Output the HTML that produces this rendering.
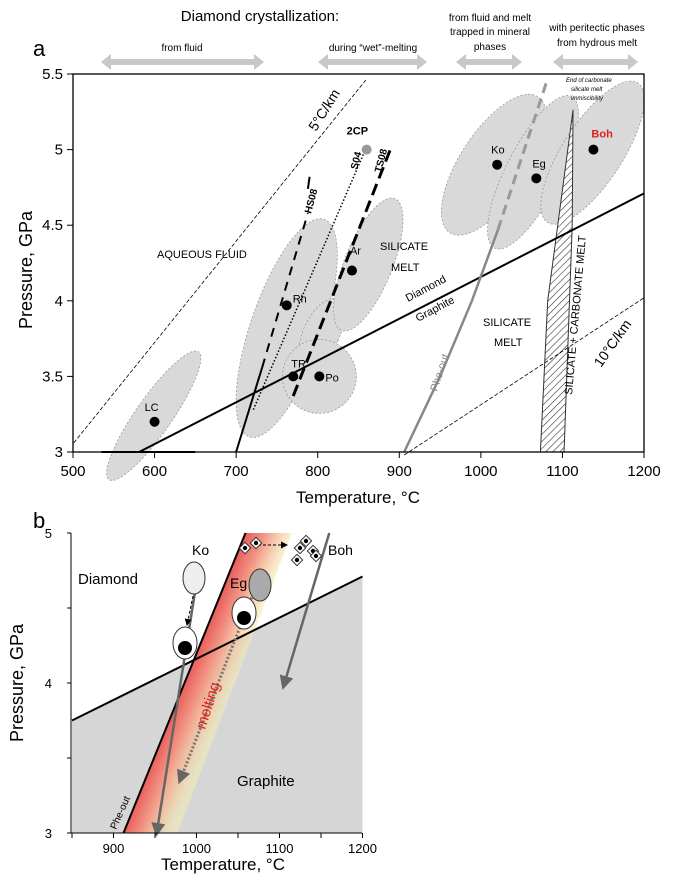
<!DOCTYPE html>
<html><head><meta charset="utf-8"><style>
body{margin:0;background:#fff}
svg{display:block;font-family:"Liberation Sans",sans-serif}
</style></head><body>
<svg id="fig" width="685" height="878" viewBox="0 0 685 878" xmlns="http://www.w3.org/2000/svg">
<defs>
<pattern id="hatch" width="5" height="5" patternUnits="userSpaceOnUse" patternTransform="rotate(45)"><rect width="5" height="5" fill="#fff"/><line x1="0" y1="0" x2="0" y2="5" stroke="#333" stroke-width="1.2"/></pattern>
<linearGradient id="melt" gradientUnits="userSpaceOnUse" x1="180" y1="683" x2="226" y2="702"><stop offset="0" stop-color="#e85050"/><stop offset="0.45" stop-color="#f29a88"/><stop offset="1" stop-color="#f6f0b0" stop-opacity="0.5"/></linearGradient>
<marker id="ah" markerUnits="userSpaceOnUse" markerWidth="14" markerHeight="14" refX="10" refY="7" orient="auto"><path d="M0,0 L14,7 L0,14 z" fill="#666"/></marker>
<marker id="ahk" markerUnits="userSpaceOnUse" markerWidth="7" markerHeight="7" refX="6" refY="3.5" orient="auto"><path d="M0,0 L7,3.5 L0,7 z" fill="#000"/></marker>
</defs>
<g id="pa"></g>
<g id="pb"></g>
</svg>
<script>
// ---- Panel a data ----
const xTicksA=[500,600,700,800,900,1000,1100,1200];
const yTicksA=[3,3.5,4,4.5,5,5.5];
const pointNames=["LC","Rh","TR","Po","Ar","2CP","Ko","Eg","Boh"];
const pointT=[600,762,770,802,842,860,1020,1068,1138];
const pointP=[3.2,3.97,3.5,3.5,4.2,5.0,4.9,4.81,5.0];
const ellT=[599,762,805,862,802,1016,1064,1137];
const ellP=[3.24,3.82,3.79,4.24,3.5,4.9,4.85,4.98];
const dgT=[581,1200], dgP=[3,4.71];
const geo5T=[501,859], geo5P=[3.06,5.46];
const geo10T=[906,1200], geo10P=[2.98,4.02];
const s04T=[721,860], s04P=[3.28,5.02];
const ts08T=[770,889], ts08P=[3.37,5.0];
const hs08T=[700,732,788], hs08P=[3,3.56,4.58];
const pheT=[906,950,989,1021], pheP=[3,3.5,4.0,4.47];
const pheDashT=[1021,1082], pheDashP=[4.47,5.47];
const bandLT=[1073,1082,1113], bandLP=[3,4.0,5.26];
const bandRT=[1102,1112,1113], bandRP=[3,4.5,5.26];

const NS="http://www.w3.org/2000/svg";
function mk(par,tag,at,txt){const e=document.createElementNS(NS,tag);for(const k in at)e.setAttribute(k,at[k]);if(txt!==undefined)e.textContent=txt;par.appendChild(e);return e;}
const xa=t=>73+(t-500)*571/700, ya=p=>452-(p-3)*151.2;
const pa=document.getElementById('pa');
function lineA(T,P){return T.map((t,i)=>(i?'L':'M')+xa(t).toFixed(1)+','+ya(P[i]).toFixed(1)).join(' ');}

// ellipse shapes: [half-width, half-length, angle]
const ellGeom=[[18,78,35],[36,115,19],[18,37,26],[24,71,22],[37,37,0],[34,81,33],[27,85,27],[30,83,33]];
ellT.forEach((t,i)=>{const g=ellGeom[i];const cx=xa(t),cy=ya(ellP[i]);
 const e=mk(pa,'ellipse',{cx:cx,cy:cy,rx:g[0],ry:g[1],transform:`rotate(${g[2]} ${cx} ${cy})`,fill:'#d9d9d9',stroke:'#999','stroke-dasharray':'2,2','stroke-width':0.8});
 
 
});
{const d=lineA(bandLT,bandLP)+' '+bandRT.map((t,i)=>'L'+xa(t)+','+ya(bandRP[i])).reverse().join(' ')+'Z';
 const e=mk(pa,'path',{d,fill:'url(#hatch)',stroke:'#333','stroke-width':1});
 }
function addLine(T,P,name,st){const e=mk(pa,'path',Object.assign({d:lineA(T,P),fill:'none'},st));}
addLine(geo5T,geo5P,'geotherm-5',{stroke:'#000','stroke-width':0.8,'stroke-dasharray':'4,2'});
addLine(geo10T,geo10P,'geotherm-10',{stroke:'#000','stroke-width':0.8,'stroke-dasharray':'4,2'});
addLine(dgT,dgP,'diamond-graphite-line',{stroke:'#000','stroke-width':2});
addLine([535,650],[3,3],'base-line',{stroke:'#000','stroke-width':2});
addLine(s04T,s04P,'s04-line',{stroke:'#000','stroke-width':1.5,'stroke-dasharray':'1.5,2'});
addLine(ts08T,ts08P,'ts08-line',{stroke:'#000','stroke-width':3,'stroke-dasharray':'12,6'});
addLine(hs08T.slice(0,2),hs08P.slice(0,2),'hs08-solid',{stroke:'#000','stroke-width':2});
addLine(hs08T.slice(1),hs08P.slice(1),'hs08-line',{stroke:'#000','stroke-width':2,'stroke-dasharray':'9,7'});
addLine([788,790],[4.74,4.82],'hs08-top',{stroke:'#000','stroke-width':2});
addLine(pheT,pheP,'phe-out-line',{stroke:'#888','stroke-width':2.5});
addLine(pheDashT,pheDashP,'phe-out-dashed',{stroke:'#999','stroke-width':3,'stroke-dasharray':'10,6'});
pointNames.forEach((n,i)=>{const c=mk(pa,'circle',{cx:xa(pointT[i]),cy:ya(pointP[i]),r:5,fill:n==='2CP'?'#999':'#000'});
 });
const lblOff=[[-10,-11],[6,-3],[-2,-9],[6,5],[-2,-16],[-20,-15],[-6,-11],[-4,-11],[-2,-12]];
pointNames.forEach((n,i)=>{const t=mk(pa,'text',{x:xa(pointT[i])+lblOff[i][0],y:ya(pointP[i])+lblOff[i][1],'font-size':11,fill:n==='Boh'?'#e02020':'#000','font-weight':(n==='Boh'||n==='2CP')?'bold':'normal'},n);
 });
mk(pa,'rect',{x:73,y:74,width:571,height:378,fill:'none',stroke:'#000','stroke-width':1.3});
xTicksA.forEach(t=>{mk(pa,'line',{x1:xa(t),y1:452,x2:xa(t),y2:458,stroke:'#000'});
 const e=mk(pa,'text',{x:xa(t),y:476,'font-size':15,'text-anchor':'middle'},t);});
yTicksA.forEach(p=>{mk(pa,'line',{x1:67,y1:ya(p),x2:73,y2:ya(p),stroke:'#000'});
 const e=mk(pa,'text',{x:63,y:ya(p)+5,'font-size':15,'text-anchor':'end'},p);});
</script>
<svg style="position:absolute;left:0;top:0" width="685" height="878">
<g font-family="Liberation Sans, sans-serif">
<text x="260" y="21" font-size="15" text-anchor="middle">Diamond crystallization:</text>
<text x="33" y="56" font-size="22">a</text>
<text x="182" y="51" font-size="10" text-anchor="middle">from fluid</text>
<text x="373" y="51" font-size="10" text-anchor="middle">during “wet”-melting</text>
<text x="490" y="21" font-size="10" text-anchor="middle">from fluid and melt</text>
<text x="490" y="35" font-size="10" text-anchor="middle">trapped in mineral</text>
<text x="490" y="50" font-size="10" text-anchor="middle">phases</text>
<text x="597" y="31" font-size="10" text-anchor="middle">with peritectic phases</text>
<text x="597" y="46" font-size="10" text-anchor="middle">from hydrous melt</text>
<g fill="#c8c8c8">
<path d="M101,62 l10,-8 v5 h143 v-5 l10,8 l-10,8 v-5 h-143 v5z"/>
<path d="M318,62 l10,-8 v5 h89 v-5 l10,8 l-10,8 v-5 h-89 v5z"/>
<path d="M456,62 l10,-8 v5 h46 v-5 l10,8 l-10,8 v-5 h-46 v5z"/>
<path d="M553,62 l10,-8 v5 h65 v-5 l10,8 l-10,8 v-5 h-65 v5z"/>
</g>
<text x="358" y="503" font-size="17" text-anchor="middle">Temperature, °C</text>
<text transform="translate(32,270) rotate(-90)" font-size="18" text-anchor="middle">Pressure, GPa</text>
<text x="157" y="258" font-size="11">AQUEOUS FLUID</text>
<text x="380" y="250" font-size="11">SILICATE</text>
<text x="391" y="271" font-size="11">MELT</text>
<text x="483" y="326" font-size="11">SILICATE</text>
<text x="494" y="346" font-size="11">MELT</text>
<text transform="translate(408,302) rotate(-28)" font-size="11">Diamond</text>
<text transform="translate(418,322) rotate(-28)" font-size="11">Graphite</text>
<text transform="translate(437,392) rotate(-72)" font-size="11" fill="#888">Phe-out</text>
<text transform="translate(316,132) rotate(-58)" font-size="14">5°C/km</text>
<text transform="translate(601,368) rotate(-55)" font-size="14">10°C/km</text>
<text transform="translate(572,395) rotate(-85)" font-size="11">SILICATE + CARBONATE MELT</text>
<text transform="translate(311,214) rotate(-75)" font-size="10" font-weight="bold">HS08</text>
<text transform="translate(357,170) rotate(-75)" font-size="10" font-weight="bold">S04</text>
<text transform="translate(381,173) rotate(-75)" font-size="10" font-weight="bold">TS08</text>
<text x="566" y="82" font-size="6" font-style="italic">End of carbonate</text>
<text x="571" y="91" font-size="6" font-style="italic">silicate melt</text>
<text x="571" y="100" font-size="6" font-style="italic">immiscibility</text>
</g></svg>
<script>
// ---- Panel b data ----
const xTicksB=[900,1000,1100,1200];
const yTicksB=[3,4,5];
const dgbT=[850,1200], dgbP=[3.75,4.71];
const phebT=[912,1059], phebP=[3,5];
const yelT=[977,1115], yelP=[3,5];
const koArrT=[1000,952], koArrP=[4.67,3];
const bohArrT=[1160,1105], bohArrP=[5,3.98];
const meltArrT=[1070,980], meltArrP=[4.62,3.35];
const xb=t=>72+(t-850)*0.83, yb=p=>833-(p-3)*150;
const pb=document.getElementById('pb');
function lineB(T,P){return T.map((t,i)=>(i?'L':'M')+xb(t).toFixed(1)+','+yb(P[i]).toFixed(1)).join(' ');}
function tag(e,n){}
tag(mk(pb,'path',{d:`M${xb(850)},${yb(dgbP[0])} L${xb(1200)},${yb(dgbP[1])} L${xb(1200)},${yb(3)} L${xb(850)},${yb(3)}Z`,fill:'#d6d6d6'}),'graphite-field');
tag(mk(pb,'path',{d:lineB(phebT,phebP)+` L${xb(yelT[1])},${yb(yelP[1])} L${xb(yelT[0])},${yb(yelP[0])}Z`,fill:'url(#melt)'}),'melting-band');
tag(mk(pb,'path',{d:lineB(dgbT,dgbP),stroke:'#000','stroke-width':2,fill:'none'}),'diamond-graphite-line-b');
tag(mk(pb,'path',{d:lineB(phebT,phebP),stroke:'#000','stroke-width':2,fill:'none'}),'phe-out-line-b');
tag(mk(pb,'path',{d:lineB(koArrT,koArrP),stroke:'#666','stroke-width':2.5,fill:'none','marker-end':'url(#ah)'}),'ko-path-arrow');
tag(mk(pb,'path',{d:lineB(bohArrT,bohArrP),stroke:'#666','stroke-width':2.5,fill:'none','marker-end':'url(#ah)'}),'boh-path-arrow');
tag(mk(pb,'path',{d:lineB(meltArrT,meltArrP),stroke:'#777','stroke-width':3,fill:'none','stroke-dasharray':'2,2','marker-end':'url(#ah)'}),'melting-arrow');
tag(mk(pb,'ellipse',{cx:194,cy:578,rx:11,ry:16,fill:'#eee',stroke:'#333'}),'ko-ellipse');
tag(mk(pb,'ellipse',{cx:260,cy:585,rx:11,ry:16,fill:'#aaa',stroke:'#333'}),'eg-ellipse');
tag(mk(pb,'ellipse',{cx:185,cy:643,rx:12,ry:16,fill:'#fff',stroke:'#333'}),'ko-inclusion');
tag(mk(pb,'circle',{cx:185,cy:648,r:7,fill:'#000'}),'ko-inclusion-core');
tag(mk(pb,'ellipse',{cx:244,cy:613,rx:12,ry:16,fill:'#fff',stroke:'#333'}),'eg-inclusion');
tag(mk(pb,'circle',{cx:244,cy:618,r:7,fill:'#000'}),'eg-inclusion-core');
mk(pb,'line',{x1:193,y1:596,x2:187,y2:625,stroke:'#000','stroke-dasharray':'3,2','marker-end':'url(#ahk)'});
mk(pb,'line',{x1:258,y1:545,x2:287,y2:545,stroke:'#000','stroke-dasharray':'3,2','marker-end':'url(#ahk)'});
[[245,548],[256,543],[300,548],[306,541],[313,551],[297,560],[316,556]].forEach(p=>{tag(mk(pb,'rect',{x:p[0]-4,y:p[1]-4,width:8,height:8,fill:'#fff',stroke:'#333',transform:`rotate(45 ${p[0]} ${p[1]})`}),'mineral-symbol');mk(pb,'circle',{cx:p[0],cy:p[1],r:2.2,fill:'#000'});});
mk(pb,'line',{x1:71,y1:533,x2:71,y2:833,stroke:'#000'});
mk(pb,'line',{x1:71,y1:833,x2:362,y2:833,stroke:'#000'});
[850,900,950,1000,1050,1100,1150,1200].forEach(t=>mk(pb,'line',{x1:xb(t),y1:833,x2:xb(t),y2:838,stroke:'#000'}));
[3,3.5,4,4.5,5].forEach(p=>mk(pb,'line',{x1:67,y1:yb(p),x2:71,y2:yb(p),stroke:'#000'}));
xTicksB.forEach(t=>tag(mk(pb,'text',{x:xb(t),y:853,'font-size':13,'text-anchor':'middle'},t),'x-tick-label-b'));
yTicksB.forEach(p=>tag(mk(pb,'text',{x:52,y:yb(p)+5,'font-size':13,'text-anchor':'end'},p),'y-tick-label-b'));
</script>
<svg style="position:absolute;left:0;top:0" width="685" height="878">
<g font-family="Liberation Sans, sans-serif">
<text x="33" y="528" font-size="22">b</text>
<text x="223" y="870" font-size="17" text-anchor="middle">Temperature, °C</text>
<text transform="translate(23,683) rotate(-90)" font-size="18" text-anchor="middle">Pressure, GPa</text>
<text x="78" y="584" font-size="15">Diamond</text>
<text x="237" y="786" font-size="15">Graphite</text>
<text x="192" y="555" font-size="14">Ko</text>
<text x="230" y="588" font-size="14">Eg</text>
<text x="328" y="555" font-size="14">Boh</text>
<text transform="translate(205,730) rotate(-72)" font-size="15" fill="#e02020">melting</text>
<text transform="translate(116,830) rotate(-66)" font-size="10">Phe-out</text>
</g></svg>
</body></html>
